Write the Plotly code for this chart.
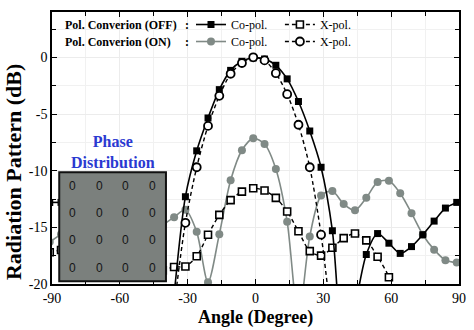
import plotly.graph_objects as go

# ---------------- data ----------------
angles = [-91, -86, -81, -76, -71, -66, -61, -56, -51, -46, -41, -36, -31, -26, -21,
          -16, -11, -6, -1, 4, 9, 14, 19, 24, 29, 34, 39, 44, 49, 54, 59, 64, 69,
          74, 79, 84, 89]
N = None
# Pol. conversion OFF, co-pol (solid black, filled squares)
copol_off = [-12.8, -12.8, N, N, N, N, N, N, N, N, N,
             -21.0, -12.3, -8.25, -5.35, -2.85, -1.15, -0.35, -0.05, -0.15, -0.7,
             -1.9, -3.9, -6.5, -9.7, -15.3, -26.0, -22.0, -17.4, -15.55, -16.4,
             -17.3, -16.7, -15.65, -14.45, -13.3, -12.8]
# Pol. conversion OFF, x-pol (dashed black, open squares)
xpol_off = [-17.2, -17.0, N, N, N, N, N, N, N, N,
            -18.8, -18.5, -18.45, -17.55, -15.65, -13.9, -12.6, -11.85, -11.55,
            -11.75, -12.4, -13.6, -15.35, -17.1, -17.5, -16.8, -15.95, -15.55,
            -16.15, -17.6, -19.4, -23.0, N, N, N, N, N]
# Pol. conversion ON, co-pol (solid grey, filled circles)
copol_on = [-16.3, -15.6, N, N, N, N, N, N, N, N,
            -14.8, -14.1, -13.45, -15.4, -19.85, -15.6, -10.85, -8.2, -7.15, -7.65,
            -9.85, -14.5, -23.0, -15.8, -12.2, -11.8, -12.95, -13.5, -12.4, -11.0,
            -10.9, -12.0, -13.75, -15.65, -16.97, -17.9, -18.1]
# Pol. conversion ON, x-pol (dashed black, open circles)
xpol_on = [N, N, N, N, N, N, N, N, N, N, N,
           -22.0, -14.6, -9.7, -6.05, -3.4, -1.45, -0.5, 0.0, -0.27, -1.4, -3.25,
           -5.95, -9.7, -15.65, -24.0, N, N, N, N, N, N, N, N, N, N, N]

x_ticks = [-90, -60, -30, 0, 30, 60, 90]
y_ticks = [-20, -15, -10, -5, 0]
phase = [[0, 0, 0, 0], [0, 0, 0, 0], [0, 0, 0, 0], [0, 0, 0, 0]]

group_off = "Pol. Converion (OFF)"
group_on = "Pol. Converion (ON)"

# ---------------- styles ----------------
SERIF = "Liberation Serif"
BLACK = "#000000"
GREY = "#808a86"
DASH = "4px,3px"

fig = go.Figure()

fig.add_trace(go.Scatter(
    x=angles, y=copol_on, name="Co-pol.", mode="lines+markers", legend="legend3",
    showlegend=True,
    line=dict(color=GREY, width=1.6, shape="spline", smoothing=0.8),
    marker=dict(symbol="circle", size=8, color=GREY, line=dict(width=0))))
fig.add_trace(go.Scatter(
    x=angles, y=xpol_off, name="X-pol.", mode="lines+markers", legend="legend2",
    showlegend=True,
    line=dict(color=BLACK, width=1.4, dash=DASH, shape="spline", smoothing=0.8),
    marker=dict(symbol="square", size=7, color="white", line=dict(color=BLACK, width=1.6))))
fig.add_trace(go.Scatter(
    x=angles, y=copol_off, name="Co-pol.", mode="lines+markers", legend="legend",
    showlegend=True,
    line=dict(color=BLACK, width=1.6, shape="spline", smoothing=0.8),
    marker=dict(symbol="square", size=7, color=BLACK, line=dict(width=0))))
fig.add_trace(go.Scatter(
    x=angles, y=xpol_on, name="X-pol.", mode="lines+markers", legend="legend4",
    showlegend=True,
    line=dict(color=BLACK, width=1.4, dash=DASH, shape="spline", smoothing=0.8),
    marker=dict(symbol="circle", size=8, color="white", line=dict(color=BLACK, width=1.8))))

# ---------------- inset: phase distribution ----------------
bx0, bx1, by0, by1 = -86.8, -39.6, -19.75, -10.15
fig.add_shape(type="rect", xref="x", yref="y", x0=bx0, x1=bx1, y0=by0, y1=by1,
              fillcolor="#7b807d", line=dict(color="#111111", width=2), layer="above")
rows = len(phase)
cols = len(phase[0])
for i, row in enumerate(phase):
    for j, v in enumerate(row):
        fig.add_annotation(
            x=bx0 + (j + 0.5) * (bx1 - bx0) / cols,
            y=by1 - (i + 0.5) * (by1 - by0) / rows,
            xref="x", yref="y", text=str(v), showarrow=False,
            font=dict(family="Liberation Sans", size=12, color="#151515"))
fig.add_annotation(x=(bx0 + bx1) / 2, y=-8.35, xref="x", yref="y",
                   text="<b>Phase<br>Distribution</b>", showarrow=False,
                   font=dict(family=SERIF, size=16, color="#2a39d1"))

# ---------------- legend group labels ----------------
ROW1, ROW2 = 0.954, 0.8915
for label, ypos in ((group_off, ROW1), (group_on, ROW2)):
    fig.add_annotation(x=0.027, y=ypos, xref="paper", yref="paper", xanchor="left",
                       yanchor="middle", text="<b>" + label + "</b>", showarrow=False,
                       font=dict(family=SERIF, size=12, color=BLACK))
    fig.add_annotation(x=0.331, y=ypos, xref="paper", yref="paper", xanchor="center",
                       yanchor="middle", text="<b>:</b>", showarrow=False,
                       font=dict(family=SERIF, size=12, color=BLACK))

# axis titles as annotations (fixed positions)
fig.add_annotation(x=-0.093, y=0.412, xref="paper", yref="paper", textangle=-90,
                   xanchor="center", yanchor="middle",
                   text="<b>Radiation Pattern (dB)</b>", showarrow=False,
                   font=dict(family=SERIF, size=22, color=BLACK))
fig.add_annotation(x=0.5, y=-0.122, xref="paper", yref="paper",
                   xanchor="center", yanchor="middle",
                   text="<b>Angle (Degree)</b>", showarrow=False,
                   font=dict(family=SERIF, size=18, color=BLACK))

legend_common = dict(orientation="h", xanchor="left", yanchor="middle",
                     bgcolor="rgba(0,0,0,0)", borderwidth=0, visible=True,
                     font=dict(family=SERIF, size=12, color=BLACK),
                     itemwidth=30)

axis_common = dict(
    showline=True, linecolor=BLACK, linewidth=1.5, mirror="ticks",
    ticks="inside", ticklen=5, tickwidth=1.3, tickcolor=BLACK,
    showgrid=True, gridcolor="#ececec", gridwidth=1, zeroline=False,
    automargin=False,
    tickfont=dict(family=SERIF, size=14, color=BLACK),
)

fig.update_layout(
    width=474, height=330,
    margin=dict(l=52, r=15, t=12, b=46, autoexpand=False),
    plot_bgcolor="white", paper_bgcolor="white",
    font=dict(family=SERIF, color=BLACK),
    showlegend=True,
    legend=dict(x=0.3415, y=ROW1, **legend_common),
    legend2=dict(x=0.560, y=ROW1, **legend_common),
    legend3=dict(x=0.3415, y=ROW2, **legend_common),
    legend4=dict(x=0.560, y=ROW2, **legend_common),
    xaxis=dict(range=[-90, 90], tickmode="array", tickvals=x_ticks,
               ticktext=[str(t) for t in x_ticks],
               minor=dict(dtick=15, tick0=-90, ticks="inside", ticklen=4,
                          tickcolor=BLACK, showgrid=True, gridcolor="#f1f1f1"),
               **axis_common),
    yaxis=dict(range=[-20, 4], tickmode="array", tickvals=y_ticks,
               ticktext=[str(t) for t in y_ticks],
               minor=dict(dtick=2.5, tick0=0, ticks="inside", ticklen=4,
                          tickcolor=BLACK, showgrid=True, gridcolor="#f1f1f1"),
               **axis_common),
)

fig.write_html("out.html")
